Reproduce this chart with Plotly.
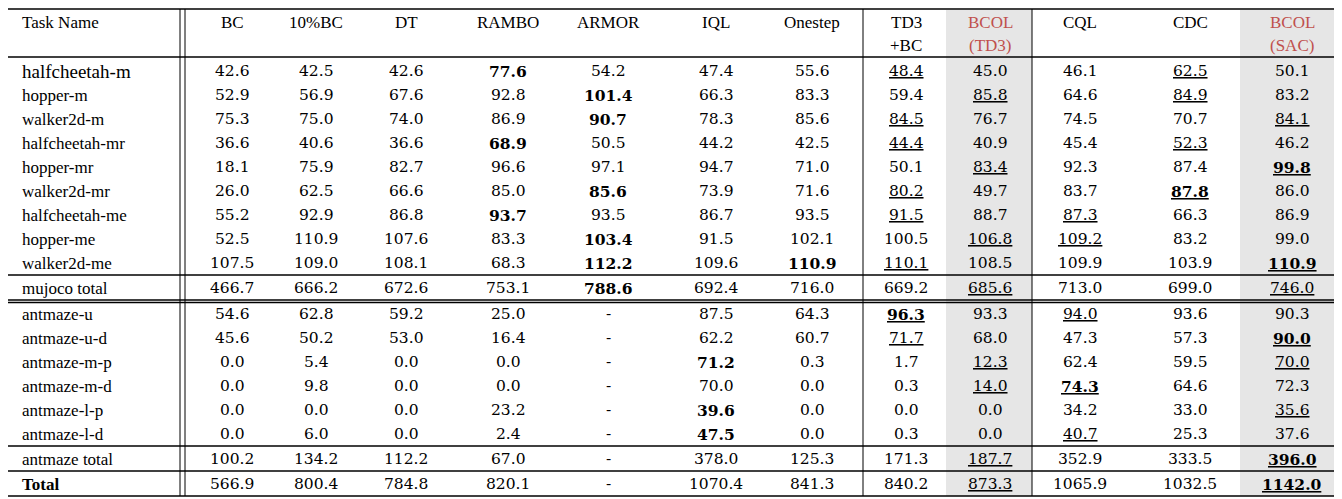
import plotly.graph_objects as go

tasks = ["halfcheetah-m", "hopper-m", "walker2d-m", "halfcheetah-mr", "hopper-mr", "walker2d-mr",
         "halfcheetah-me", "hopper-me", "walker2d-me", "mujoco total",
         "antmaze-u", "antmaze-u-d", "antmaze-m-p", "antmaze-m-d", "antmaze-l-p", "antmaze-l-d",
         "antmaze total", "Total"]

headers = [["BC"], ["10%BC"], ["DT"], ["RAMBO"], ["ARMOR"], ["IQL"], ["Onestep"], ["TD3", "+BC"],
           ["BCOL", "(TD3)"], ["CQL"], ["CDC"], ["BCOL", "(SAC)"]]

bc = ["42.6", "52.9", "75.3", "36.6", "18.1", "26.0", "55.2", "52.5", "107.5", "466.7",
      "54.6", "45.6", "0.0", "0.0", "0.0", "0.0", "100.2", "566.9"]
bc10 = ["42.5", "56.9", "75.0", "40.6", "75.9", "62.5", "92.9", "110.9", "109.0", "666.2",
        "62.8", "50.2", "5.4", "9.8", "0.0", "6.0", "134.2", "800.4"]
dt = ["42.6", "67.6", "74.0", "36.6", "82.7", "66.6", "86.8", "107.6", "108.1", "672.6",
      "59.2", "53.0", "0.0", "0.0", "0.0", "0.0", "112.2", "784.8"]
rambo = ["77.6", "92.8", "86.9", "68.9", "96.6", "85.0", "93.7", "83.3", "68.3", "753.1",
         "25.0", "16.4", "0.0", "0.0", "23.2", "2.4", "67.0", "820.1"]
armor = ["54.2", "101.4", "90.7", "50.5", "97.1", "85.6", "93.5", "103.4", "112.2", "788.6",
         "-", "-", "-", "-", "-", "-", "-", "-"]
iql = ["47.4", "66.3", "78.3", "44.2", "94.7", "73.9", "86.7", "91.5", "109.6", "692.4",
       "87.5", "62.2", "71.2", "70.0", "39.6", "47.5", "378.0", "1070.4"]
onestep = ["55.6", "83.3", "85.6", "42.5", "71.0", "71.6", "93.5", "102.1", "110.9", "716.0",
           "64.3", "60.7", "0.3", "0.0", "0.0", "0.0", "125.3", "841.3"]
td3bc = ["48.4", "59.4", "84.5", "44.4", "50.1", "80.2", "91.5", "100.5", "110.1", "669.2",
         "96.3", "71.7", "1.7", "0.3", "0.0", "0.3", "171.3", "840.2"]
bcol_td3 = ["45.0", "85.8", "76.7", "40.9", "83.4", "49.7", "88.7", "106.8", "108.5", "685.6",
            "93.3", "68.0", "12.3", "14.0", "0.0", "0.0", "187.7", "873.3"]
cql = ["46.1", "64.6", "74.5", "45.4", "92.3", "83.7", "87.3", "109.2", "109.9", "713.0",
       "94.0", "47.3", "62.4", "74.3", "34.2", "40.7", "352.9", "1065.9"]
cdc = ["62.5", "84.9", "70.7", "52.3", "87.4", "87.8", "66.3", "83.2", "103.9", "699.0",
       "93.6", "57.3", "59.5", "64.6", "33.0", "25.3", "333.5", "1032.5"]
bcol_sac = ["50.1", "83.2", "84.1", "46.2", "99.8", "86.0", "86.9", "99.0", "110.9", "746.0",
            "90.3", "90.0", "70.0", "72.3", "35.6", "37.6", "396.0", "1142.0"]

# emphasis marks: b = bold (best), u = underline
rambo_m = ["b", "", "", "b", "", "", "b", "", "", "", "", "", "", "", "", "", "", ""]
armor_m = ["", "b", "b", "", "", "b", "", "b", "b", "b", "", "", "", "", "", "", "", ""]
iql_m = ["", "", "", "", "", "", "", "", "", "", "", "", "b", "", "b", "b", "", ""]
onestep_m = ["", "", "", "", "", "", "", "", "b", "", "", "", "", "", "", "", "", ""]
td3bc_m = ["u", "", "u", "u", "", "u", "u", "", "u", "", "bu", "u", "", "", "", "", "", ""]
bcol_td3_m = ["", "u", "", "", "u", "", "", "u", "", "u", "", "", "u", "u", "", "", "u", "u"]
cql_m = ["", "", "", "", "", "", "u", "u", "", "", "u", "", "", "bu", "", "u", "", ""]
cdc_m = ["u", "u", "", "u", "", "bu", "", "", "", "", "", "", "", "", "", "", "", ""]
bcol_sac_m = ["", "", "u", "", "bu", "", "", "", "bu", "u", "", "bu", "u", "", "u", "", "bu", "bu"]

cols = [bc, bc10, dt, rambo, armor, iql, onestep, td3bc, bcol_td3, cql, cdc, bcol_sac]
blank = [""] * len(tasks)
marks = [blank, blank, blank, rambo_m, armor_m, iql_m, onestep_m, td3bc_m, bcol_td3_m,
         cql_m, cdc_m, bcol_sac_m]

col_x = [224, 308, 398, 500, 600, 708, 804, 898, 982, 1072, 1182, 1284]
W, H = 1342, 499
row_h = 24.0

def row_y(i):
    extra = 0
    if i >= 9: extra += 1
    if i >= 10: extra += 2
    if i >= 16: extra += 1
    if i >= 17: extra += 1
    return 63 + i * row_h + extra

serif = "Liberation Serif"
num_font = "DejaVu Serif"
ann = []
ann.append(dict(x=12, y=14, text="Task Name", xanchor="left", showarrow=False,
                font=dict(family=serif, size=17, color="black")))
for j, h in enumerate(headers):
    red = h[0] == "BCOL"
    for k, line in enumerate(h):
        ann.append(dict(x=col_x[j], y=14 + 23 * k, text=line, showarrow=False, xanchor="center",
                        font=dict(family=serif, size=17, color="#c0504d" if red else "black")))
for i, t in enumerate(tasks):
    txt = "<b>Total</b>" if t == "Total" else t
    ann.append(dict(x=12, y=row_y(i), text=txt, xanchor="left", showarrow=False,
                    font=dict(family=serif, size=19 if i == 0 else 17, color="black")))
    for j, col in enumerate(cols):
        v = col[i]
        m = marks[j][i]
        if "b" in m:
            v = f"<b>{v}</b>"
        if "u" in m:
            v = f"<u>{v}</u>"
        ann.append(dict(x=col_x[j], y=row_y(i), text=v, showarrow=False, xanchor="center",
                        font=dict(family=num_font, size=15.5, color="black")))

bottom = row_y(17) + 12
shapes = []
for x0, x1 in [(938, 1024), (1232, 1338)]:
    shapes.append(dict(type="rect", x0=x0, x1=x1, y0=2, y1=bottom, fillcolor="#e6e6e6",
                       line_width=0, layer="below"))
hlines = [1, 49, row_y(8) + 12, row_y(9) + 12, row_y(9) + 14.5, row_y(15) + 12,
          row_y(16) + 12, bottom]
for y in hlines:
    shapes.append(dict(type="line", x0=0, x1=1340, y0=y, y1=y, line=dict(color="black", width=1.3)))
for x in [172, 177, 855, 1024]:
    shapes.append(dict(type="line", x0=x, x1=x, y0=1, y1=bottom,
                       line=dict(color="black", width=1)))

fig = go.Figure(go.Scatter(x=[], y=[]))
fig.update_layout(
    width=W, height=H, margin=dict(l=0, r=0, t=0, b=0),
    plot_bgcolor="white", paper_bgcolor="white",
    xaxis=dict(range=[0, W], visible=False, fixedrange=True),
    yaxis=dict(range=[H, 0], visible=False, fixedrange=True),
    annotations=ann, shapes=shapes, showlegend=False,
)
fig.write_html("out.html")
